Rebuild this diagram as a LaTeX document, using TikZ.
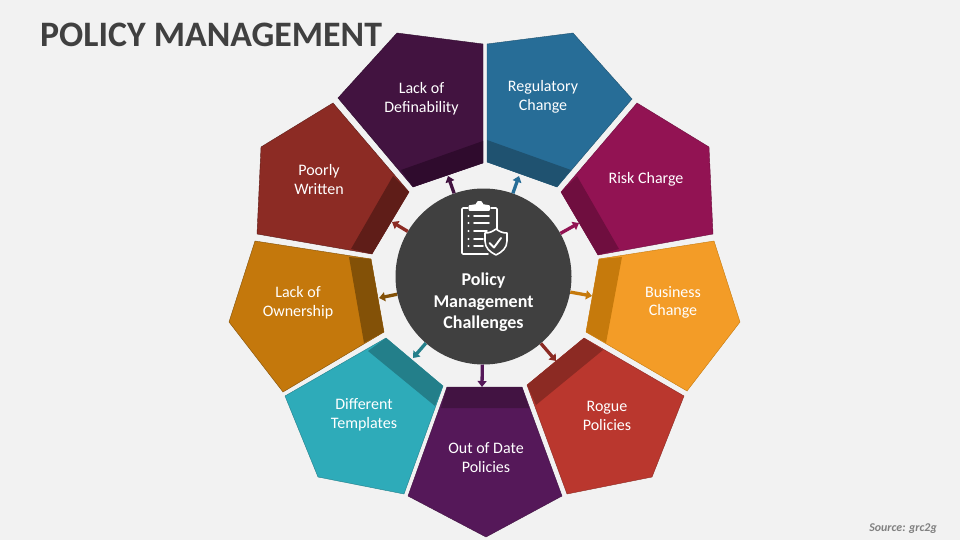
\documentclass[tikz,border=0pt]{standalone}
\usepackage{fontspec}
\setmainfont{Carlito}
\usetikzlibrary{arrows.meta}
\definecolor{pagebg}{HTML}{F2F2F2}
\definecolor{hubgray}{HTML}{404040}
\definecolor{defmain}{HTML}{421340}
\definecolor{defband}{HTML}{2F0B2D}
\definecolor{regmain}{HTML}{276D97}
\definecolor{regband}{HTML}{1F5270}
\definecolor{riskmain}{HTML}{921353}
\definecolor{riskband}{HTML}{6F0E3F}
\definecolor{busmain}{HTML}{F39C27}
\definecolor{busband}{HTML}{C67A0C}
\definecolor{rogmain}{HTML}{BA372E}
\definecolor{rogband}{HTML}{8C2A23}
\definecolor{oodmain}{HTML}{551859}
\definecolor{oodband}{HTML}{421342}
\definecolor{tplmain}{HTML}{2EABB9}
\definecolor{tplband}{HTML}{237F8A}
\definecolor{ownmain}{HTML}{C4780C}
\definecolor{ownband}{HTML}{835107}
\definecolor{poormain}{HTML}{8C2B24}
\definecolor{poorband}{HTML}{5F1D18}
\tikzstyle{hub}=[circle,fill=hubgray,minimum size=176pt,inner sep=0pt]
\tikzstyle{petal}=[text=white,align=center,font=\fontsize{16}{18.7}\selectfont]
\tikzstyle{flow}=[line width=3.3pt,-{Triangle[length=6pt,width=9pt]}]
\tikzstyle{iconline}=[draw=white,line width=1.6pt,line cap=round,line join=round]

\begin{document}
\begin{tikzpicture}[x=1pt,y=-1pt]
\useasboundingbox (0,0) rectangle (960,540);
\fill[pagebg] (0,0) rectangle (960,540);
\node[anchor=base west,font=\fontsize{35.8}{36}\selectfont\bfseries,text=hubgray,inner sep=0pt] at (40,47) (title) {POLICY MANAGEMENT};
\node[anchor=base east,font=\fontsize{11.9}{13}\selectfont\bfseries\itshape,text=gray,inner sep=0pt] at (937,531) (source) {Source: grc2g};

% pentagons
\draw[fill=defmain,draw=defband] (397,33) -- (483,44) -- (483,163) -- (413,187) -- (338,98) -- cycle;
\fill[defband] (483,141) -- (483,163) -- (413,187) -- (401,170) -- cycle;
\draw[fill=regmain,draw=regband] (487,44) -- (573,33) -- (632,99) -- (557,187) -- (487,162) -- cycle;
\fill[regband] (487,140) -- (487,162) -- (557,187) -- (571,170) -- cycle;
\draw[fill=riskmain,draw=riskband] (637,103) -- (709,147) -- (713,234) -- (598,255) -- (561,192) -- cycle;
\fill[riskband] (577,176) -- (561,192) -- (598,255) -- (619,249) -- cycle;
\draw[fill=busmain,draw=busband] (714,241) -- (740,322) -- (687,391) -- (586,332) -- (599,259) -- cycle;
\fill[busband] (622,257) -- (599,259) -- (586,332) -- (606,343) -- cycle;
\draw[fill=rogmain,draw=rogband] (584,338) -- (684,396) -- (652,477) -- (567,494) -- (527,385) -- cycle;
\fill[rogband] (603,350) -- (584,338) -- (527,385) -- (536,405) -- cycle;
\draw[fill=oodmain,draw=oodband] (447,387) -- (522,387) -- (562,496) -- (486,537) -- (408,496) -- cycle;
\fill[oodband] (447,387) -- (522,387) -- (529,408) -- (441,408) -- cycle;
\draw[fill=tplmain,draw=tplband] (386,338) -- (443,386) -- (404,494) -- (318,477) -- (285,396) -- cycle;
\fill[tplband] (368,351) -- (386,338) -- (443,386) -- (435,406) -- cycle;
\draw[fill=ownmain,draw=ownband] (255,241) -- (371,259) -- (384,332) -- (283,392) -- (229,322) -- cycle;
\fill[ownband] (349,257) -- (371,259) -- (384,332) -- (364,343) -- cycle;
\draw[fill=poormain,draw=poorband] (333,103) -- (409,192) -- (372,254) -- (257,234) -- (261,147) -- cycle;
\fill[poorband] (393,176) -- (409,192) -- (372,254) -- (351,249) -- cycle;

\node[petal] at (421.5,98.5) (def) {Lack of\\Definability};
\node[petal] at (543,96.5) (reg) {Regulatory\\Change};
\node[petal] at (646,179) (risk) {Risk Charge};
\node[petal] at (673,302.5) (bus) {Business\\Change};
\node[petal] at (607,416) (rog) {Rogue\\Policies};
\node[petal] at (486,457.5) (ood) {Out of Date\\Policies};
\node[petal] at (364,414.5) (tpl) {Different\\Templates};
\node[petal] at (298,303) (own) {Lack of\\Ownership};
\node[petal] at (319,179.5) (poor) {Poorly\\Written};

\node[hub] at (483.5,276.5) (core) {};
\node[text=white,align=center,font=\fontsize{18}{21.5}\selectfont\bfseries] at (483.5,302.5) (coretext) {Policy\\Management\\Challenges};

% arrow tips
\coordinate (tipdef) at (448,176);
\coordinate (tipreg) at (519,176);
\coordinate (tiprisk) at (579,223);
\coordinate (tipbus) at (592,296);
\coordinate (tiprog) at (556,361);
\coordinate (tipood) at (482,387);
\coordinate (tiptpl) at (413,358);
\coordinate (tipown) at (379,298);
\coordinate (tippoor) at (392,222);
\draw[flow, defmain] (core) -- (tipdef);
\draw[flow, regmain] (core) -- (tipreg);
\draw[flow, riskmain] (core) -- (tiprisk);
\draw[flow, busband] (core) -- (tipbus);
\draw[flow, rogband] (core) -- (tiprog);
\draw[flow, oodmain] (core) -- (tipood);
\draw[flow, tplband] (core) -- (tiptpl);
\draw[flow, ownband] (core) -- (tipown);
\draw[flow, poormain] (core) -- (tippoor);

% clipboard icon
\draw[iconline] (468,208) -- (463,208) -- (462,209) -- (462,253) -- (463,254) -- (488,254);
\draw[iconline] (491,208) -- (496,208) -- (497,209) -- (497,229);
\draw[iconline,fill=white] (469.5,210) -- (469.5,206) -- (476,205) -- (478,202) -- (481,202) -- (483,205) -- (489,206) -- (489,210) -- cycle;
\foreach \y in {216,223,231,239,246} {
  \fill[white] (468.5,\y) circle (1.2pt);
}
\draw[iconline] (474,216) -- (489,216);
\draw[iconline] (474,223) -- (489,223);
\draw[iconline] (474,231) -- (487,231);
\draw[iconline] (474,239) -- (483,239);
\draw[iconline] (474,246) -- (483,246);
\draw[iconline,fill=hubgray] (496,229) .. controls (492,232) and (489,233) .. (485,233) -- (485,241) .. controls (485,248) and (490,252) .. (496,255) .. controls (502,252) and (507,248) .. (507,241) -- (507,233) .. controls (503,233) and (500,232) .. (496,229) -- cycle;
\draw[iconline,line width=1.9pt] (489.5,243) -- (494,247.5) -- (501,238);
\end{tikzpicture}
\end{document}
